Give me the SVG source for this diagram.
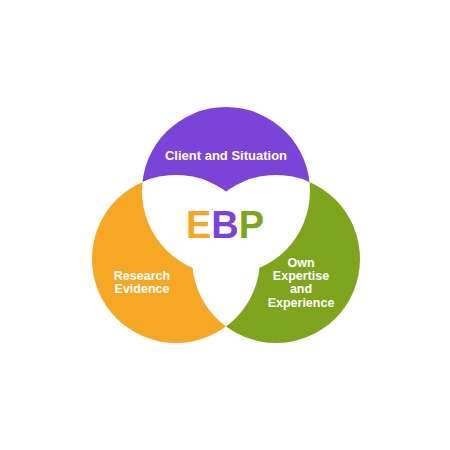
<svg xmlns="http://www.w3.org/2000/svg" width="450" height="450" viewBox="0 0 450 450">
<style>
.lbl{font-family:"Liberation Sans",Arial,sans-serif;font-weight:bold;fill:#ffffff;font-size:12.5px;text-anchor:middle}
.ebp{font-family:"Liberation Sans",Arial,sans-serif;font-weight:bold;font-size:38px;text-anchor:middle}
.ov{fill:#ffffff}
</style>
<defs>
<clipPath id="cpO"><circle cx="176" cy="259" r="84"/></clipPath>
<clipPath id="cpG"><circle cx="276" cy="259" r="84"/></clipPath>
</defs>
<rect width="450" height="450" fill="#ffffff"/>
<g id="node-client">
<circle cx="226" cy="191" r="84" fill="#7b43d8"/>
</g>
<g id="node-research">
<circle cx="176" cy="259" r="84" fill="#f6a824"/>
</g>
<g id="node-expertise">
<circle cx="276" cy="259" r="84" fill="#7fa41e"/>
</g>
<g id="overlaps">
<circle class="ov" cx="226" cy="191" r="84" clip-path="url(#cpO)"/>
<circle class="ov" cx="226" cy="191" r="84" clip-path="url(#cpG)"/>
<circle class="ov" cx="176" cy="259" r="84" clip-path="url(#cpG)"/>
</g>
<g id="labels">
<text class="lbl" x="226" y="160" style="font-size:13px">Client and Situation</text>
<text class="lbl" x="142" y="280"><tspan x="142">Research</tspan><tspan x="142" dy="13.3">Evidence</tspan></text>
<text class="lbl" x="301" y="266.7"><tspan x="301">Own</tspan><tspan x="301" dy="13.3">Expertise</tspan><tspan x="301" dy="13.3">and</tspan><tspan x="301" dy="13.3">Experience</tspan></text>
</g>
<g id="node-ebp">
<text class="ebp" x="225" y="238"><tspan fill="#f6a824">E</tspan><tspan fill="#7b43d8">B</tspan><tspan fill="#7fa41e">P</tspan></text>
</g>
</svg>
